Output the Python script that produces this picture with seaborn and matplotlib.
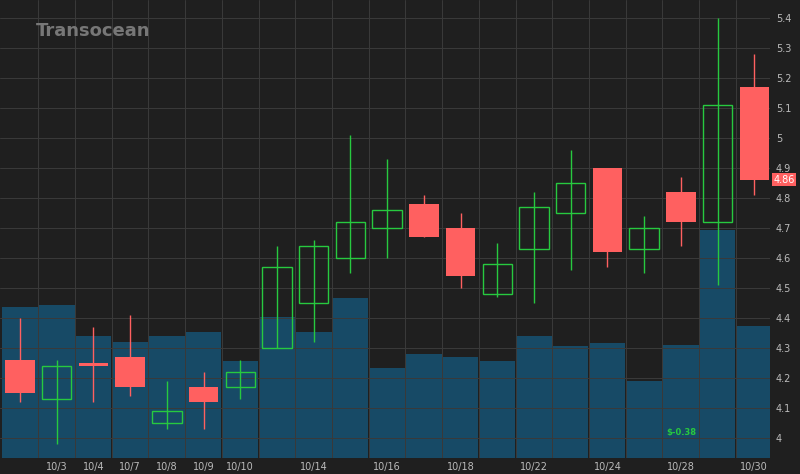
import matplotlib
matplotlib.use("Agg")
import matplotlib.pyplot as plt
import seaborn as sns
import pandas as pd

dates = ["10/2","10/3","10/4","10/7","10/8","10/9","10/10","10/11","10/14","10/15","10/16",
         "10/17","10/18","10/21","10/22","10/23","10/24","10/25","10/28","10/29","10/30"]
opens  = [4.26,4.13,4.25,4.27,4.05,4.17,4.17,4.30,4.45,4.60,4.70,4.78,4.70,4.48,4.63,4.75,4.90,4.63,4.82,4.72,5.17]
closes = [4.15,4.24,4.24,4.17,4.09,4.12,4.22,4.57,4.64,4.72,4.76,4.67,4.54,4.58,4.77,4.85,4.62,4.70,4.72,5.11,4.86]
highs  = [4.40,4.26,4.37,4.41,4.19,4.22,4.26,4.64,4.66,5.01,4.93,4.81,4.75,4.65,4.82,4.96,4.90,4.74,4.87,5.40,5.28]
lows   = [4.12,3.98,4.12,4.14,4.03,4.03,4.13,4.30,4.32,4.55,4.60,4.67,4.50,4.47,4.45,4.56,4.57,4.55,4.64,4.51,4.81]
volumes = [151,153,122,116,122,126,97,141,126,160,90,104,101,97,122,112,115,77,113,228,132]
tick_pos = [1,2,3,4,5,6,8,10,12,14,16,18,20]
tick_labels = ["10/3","10/4","10/7","10/8","10/9","10/10","10/14","10/16","10/18","10/22","10/24","10/28","10/30"]
yticks = [4.0,4.1,4.2,4.3,4.4,4.5,4.6,4.7,4.8,4.9,5.0,5.1,5.2,5.3,5.4]

sns.set_style("dark")
bg = "#1f1f1f"
fig = plt.figure(figsize=(8, 4.74), dpi=100, facecolor=bg)
axv = fig.add_axes([0, 0.034, 0.963, 0.966])
axv.set_facecolor(bg)
df = pd.DataFrame({"d": dates, "v": volumes})
sns.barplot(data=df, x="d", y="v", ax=axv, color="#174a66", saturation=1, width=0.97,
            edgecolor="none", linewidth=0)
axv.set_ylim(0, 458)
axv.set_xlim(-0.545, 20.44)
axv.set_yticks([])
axv.set_xlabel(""); axv.set_ylabel("")
for s in axv.spines.values(): s.set_visible(False)

ax = axv.twinx()
ax.set_ylim(3.933, 5.46)
for v in yticks:
    ax.axhline(v, color="#3a3a3a", lw=0.7, zorder=0)
for i in range(len(dates)):
    ax.axvline(i+0.5, color="#3a3a3a", lw=0.7, zorder=0)
red, green = "#ff6060", "#27c93f"
for i, (o, c, h, l) in enumerate(zip(opens, closes, highs, lows)):
    up = c >= o
    col = green if up else red
    ax.vlines(i, l, h, color=col, lw=1, zorder=2)
    lo, hi = min(o, c), max(o, c)
    if up:
        ax.add_patch(plt.Rectangle((i-0.4, lo), 0.8, hi-lo, facecolor="none", edgecolor=col, lw=1, zorder=3))
    else:
        ax.bar(i, max(hi-lo, 0.008), bottom=lo, width=0.8, color=col, edgecolor="none", linewidth=0, zorder=3)
ax.set_yticks(yticks)
ax.set_yticklabels([f"{v:g}" for v in yticks], color="#bbbbbb", fontsize=7)
ax.yaxis.tick_right()
ax.tick_params(axis="y", length=0, pad=4)
for s in ax.spines.values(): s.set_visible(False)
axv.set_xticks(tick_pos)
axv.set_xticklabels(tick_labels, color="#bbbbbb", fontsize=7)
axv.tick_params(axis="x", length=0, pad=3)
axv.set_xlim(-0.545, 20.44)
ax.text(20.52, closes[-1], "4.86", color="white", fontsize=7, va="center", ha="left",
        bbox=dict(boxstyle="square,pad=0.15", fc=red, ec="none"), clip_on=False)
fig.text(0.045, 0.925, "Transocean", color="#777777", fontsize=13, fontweight="bold")
ax.text(18, 4.01, "$-0.38", color="#27c93f", fontsize=6, ha="center", fontweight="bold")
fig.savefig("out.png", dpi=100, facecolor=bg)
